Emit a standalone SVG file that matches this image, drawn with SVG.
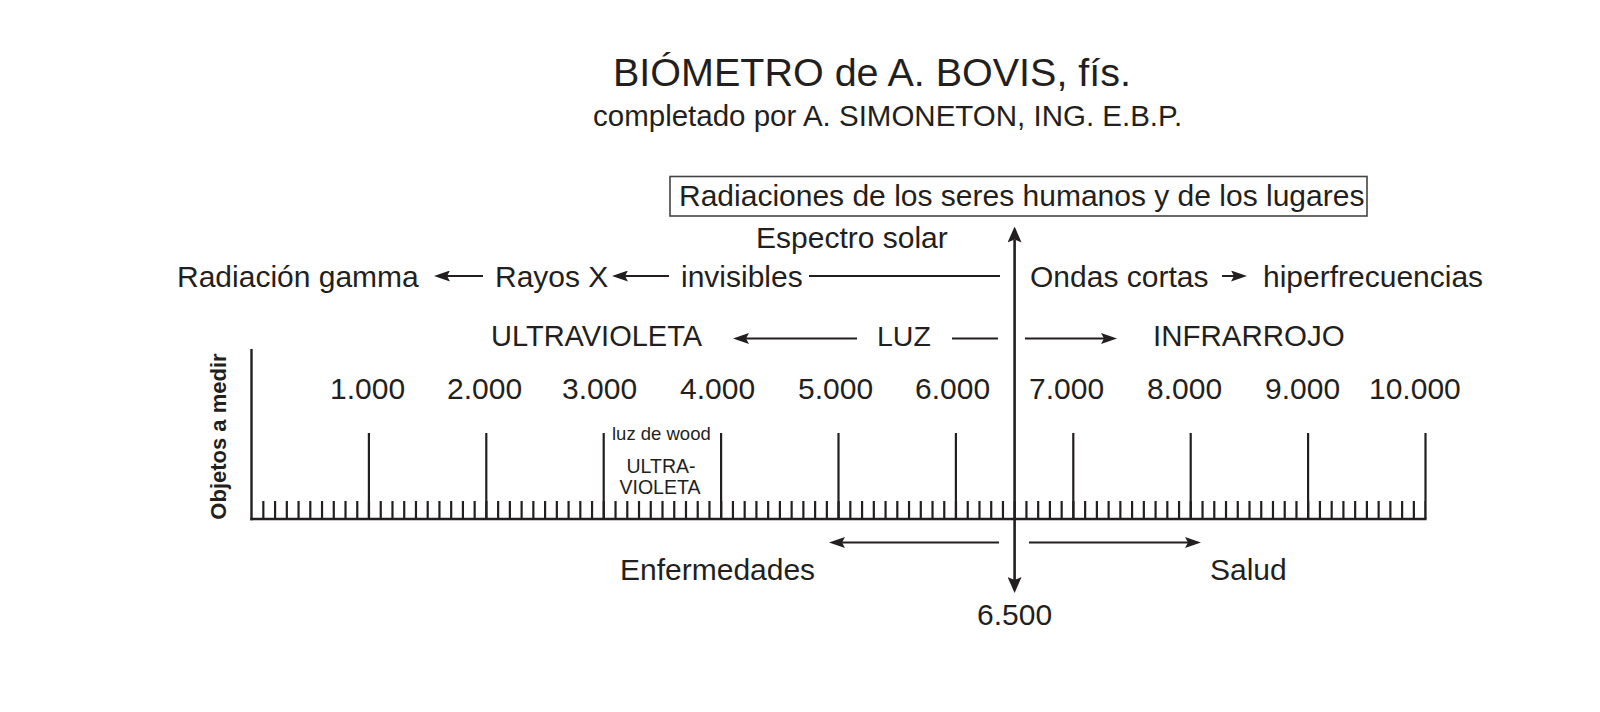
<svg xmlns="http://www.w3.org/2000/svg" width="1600" height="712" viewBox="0 0 1600 712">
<defs>
<style>
text{font-family:"Liberation Sans",Arial,Helvetica,sans-serif;fill:#231f20}
.t30{font-size:30px}
.t29{font-size:29.5px}
.sm{font-size:18.5px}
.uv{font-size:19.5px;text-anchor:middle}
.ln{stroke:#231f20;fill:none}
.ar{stroke:#231f20;stroke-width:2;fill:none;marker-end:url(#ah)}
</style>
<marker id="ah" viewBox="0 0 16 11" refX="3" refY="5.5" markerWidth="16" markerHeight="11" markerUnits="userSpaceOnUse" orient="auto-start-reverse">
<path d="M0,0 L16,5.5 L0,11 L3,5.5 z" fill="#231f20"/>
</marker>
<marker id="ahb" viewBox="0 0 16 14" refX="3" refY="7" markerWidth="16" markerHeight="14" markerUnits="userSpaceOnUse" orient="auto-start-reverse">
<path d="M0,0 L16,7 L0,14 L3,7 z" fill="#231f20"/>
</marker>
</defs>
<rect width="1600" height="712" fill="#ffffff"/>

<g id="title">
<text x="613" y="86" style="font-size:39.5px">BIÓMETRO de A. BOVIS, fís.</text>
<text x="593" y="125.5" style="font-size:29.5px">completado por A. SIMONETON, ING. E.B.P.</text>
</g>

<g id="box-radiaciones">
<rect x="670" y="176.5" width="697" height="39.5" fill="none" stroke="#444" stroke-width="1.6"/>
<text class="t30" x="679" y="206">Radiaciones de los seres humanos y de los lugares</text>
</g>

<g id="labels-row1">
<text class="t30" x="756" y="248">Espectro solar</text>
<text class="t30" x="177" y="287">Radiación gamma</text>
<text class="t30" x="495" y="287">Rayos X</text>
<text class="t30" x="681" y="287">invisibles</text>
<text class="t30" x="1030" y="287">Ondas cortas</text>
<text class="t30" x="1263" y="287">hiperfrecuencias</text>
</g>

<g id="labels-row2">
<text x="491" y="346" style="font-size:29px">ULTRAVIOLETA</text>
<text x="877" y="346" style="font-size:28.5px">LUZ</text>
<text class="t29" x="1153" y="346">INFRARROJO</text>
</g>

<g id="scale-numbers" class="t30">
<text x="330" y="399">1.000</text>
<text x="447" y="399">2.000</text>
<text x="562" y="399">3.000</text>
<text x="680" y="399">4.000</text>
<text x="798" y="399">5.000</text>
<text x="915" y="399">6.000</text>
<text x="1029" y="399">7.000</text>
<text x="1147" y="399">8.000</text>
<text x="1265" y="399">9.000</text>
<text x="1369" y="399">10.000</text>
</g>

<g id="uv-zone">
<text class="sm" x="612" y="440">luz de wood</text>
<text class="uv" x="661" y="473">ULTRA-</text>
<text class="uv" x="660" y="494">VIOLETA</text>
</g>

<g id="axis-label">
<text transform="translate(226,436.5) rotate(-90)" text-anchor="middle" style="font-size:22px;font-weight:bold">Objetos a medir</text>
</g>

<g id="ruler">
<line class="ln" x1="251.5" y1="349" x2="251.5" y2="520.3" stroke-width="2.4"/>
<line class="ln" x1="250.3" y1="519" x2="1426.5" y2="519" stroke-width="2.6"/>
<line class="ln" x1="262.24" y1="510" x2="1425" y2="510" stroke-width="18" stroke-dasharray="2.2 9.54"/>
<path class="ln" stroke-width="2.2" d="M368.9,433V519 M486.3,433V519 M603.7,433V519 M721.1,433V519 M838.5,433V519 M955.9,433V519 M1073.3,433V519 M1190.7,433V519 M1308.1,433V519 M1425.5,433V519"/>
</g>

<g id="labels-bottom" class="t30">
<text x="620" y="580">Enfermedades</text>
<text x="1210" y="580">Salud</text>
<text x="1014.6" y="624.5" text-anchor="middle">6.500</text>
</g>

<g id="connectors">
<line class="ln" x1="1014.6" y1="239.5" x2="1014.6" y2="580" stroke-width="2.6" marker-start="url(#ahb)" marker-end="url(#ahb)"/>
<line class="ar" x1="483" y1="276" x2="447" y2="276"/>
<line class="ar" x1="669" y1="276" x2="625" y2="276"/>
<line class="ln" x1="809" y1="276" x2="1000" y2="276" stroke-width="2"/>
<line class="ar" x1="1222" y1="276" x2="1234" y2="276"/>
<line class="ar" x1="857" y1="338.5" x2="746" y2="338.5"/>
<line class="ln" x1="952" y1="338.5" x2="998" y2="338.5" stroke-width="2"/>
<line class="ar" x1="1025" y1="338.5" x2="1104" y2="338.5"/>
<line class="ar" x1="999" y1="542.5" x2="842" y2="542.5"/>
<line class="ar" x1="1029" y1="542.5" x2="1188" y2="542.5"/>
</g>
</svg>
